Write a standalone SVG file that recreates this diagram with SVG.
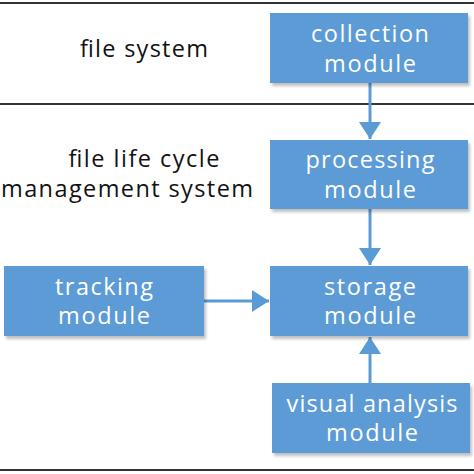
<svg xmlns="http://www.w3.org/2000/svg" width="474" height="474" viewBox="0 0 474 474">
<style>
.box{fill:#5B9BD5;filter:url(#sh)}
.bt{font-family:"Open Sans","Liberation Sans",sans-serif;font-size:23.5px;fill:#ffffff;text-anchor:middle}
.lt{font-family:"Open Sans","Liberation Sans",sans-serif;font-size:23.5px;fill:#111111;text-anchor:middle}
.sep{stroke:#333333;stroke-width:2}
.con{stroke:#5B9BD5;stroke-width:3;fill:none;marker-end:url(#ah)}
</style>
<defs>
<filter id="sh" x="-10%" y="-10%" width="130%" height="140%">
<feDropShadow dx="2" dy="3" stdDeviation="1.5" flood-color="#000000" flood-opacity="0.25"/>
</filter>
<marker id="ah" markerUnits="userSpaceOnUse" markerWidth="22" markerHeight="22" viewBox="0 0 17 22" refX="17" refY="11" orient="auto">
<path d="M0,0 L17,11 L0,22 Z" fill="#5B9BD5"/>
</marker>
</defs>
<rect width="474" height="474" fill="#ffffff"/>
<g id="separators">
<line class="sep" x1="0" y1="3" x2="474" y2="3"/>
<line class="sep" x1="0" y1="104" x2="474" y2="104"/>
<line class="sep" x1="0" y1="470" x2="474" y2="470"/>
</g>
<g id="labels">
<text class="lt" x="144" y="57" textLength="128" lengthAdjust="spacing">file system</text>
<text class="lt" x="144" y="167" textLength="151" lengthAdjust="spacing">file life cycle</text>
<text class="lt" x="127" y="197" textLength="252" lengthAdjust="spacing">management system</text>
</g>
<g id="connectors">
<line class="con" x1="370" y1="83" x2="370" y2="139"/>
<line class="con" x1="370" y1="209" x2="370" y2="265"/>
<line class="con" x1="204" y1="301" x2="269" y2="301"/>
<line class="con" x1="370" y1="383" x2="370" y2="337"/>
</g>
<g id="collection">
<rect class="box" x="270" y="13" width="198" height="70"/>
<text class="bt" x="370" y="42" textLength="118" lengthAdjust="spacing">collection</text>
<text class="bt" x="370" y="72" textLength="92" lengthAdjust="spacing">module</text>
</g>
<g id="processing">
<rect class="box" x="270" y="140" width="198" height="69"/>
<text class="bt" x="370" y="168" textLength="129" lengthAdjust="spacing">processing</text>
<text class="bt" x="370" y="198" textLength="92" lengthAdjust="spacing">module</text>
</g>
<g id="tracking">
<rect class="box" x="4" y="266" width="200" height="70"/>
<text class="bt" x="104" y="295" textLength="98" lengthAdjust="spacing">tracking</text>
<text class="bt" x="104" y="324" textLength="92" lengthAdjust="spacing">module</text>
</g>
<g id="storage">
<rect class="box" x="270" y="266" width="198" height="70"/>
<text class="bt" x="370" y="295" textLength="92" lengthAdjust="spacing">storage</text>
<text class="bt" x="370" y="324" textLength="92" lengthAdjust="spacing">module</text>
</g>
<g id="visual">
<rect class="box" x="272" y="383" width="198" height="70"/>
<text class="bt" x="372" y="412" textLength="171" lengthAdjust="spacing">visual analysis</text>
<text class="bt" x="372" y="441" textLength="92" lengthAdjust="spacing">module</text>
</g>
</svg>
